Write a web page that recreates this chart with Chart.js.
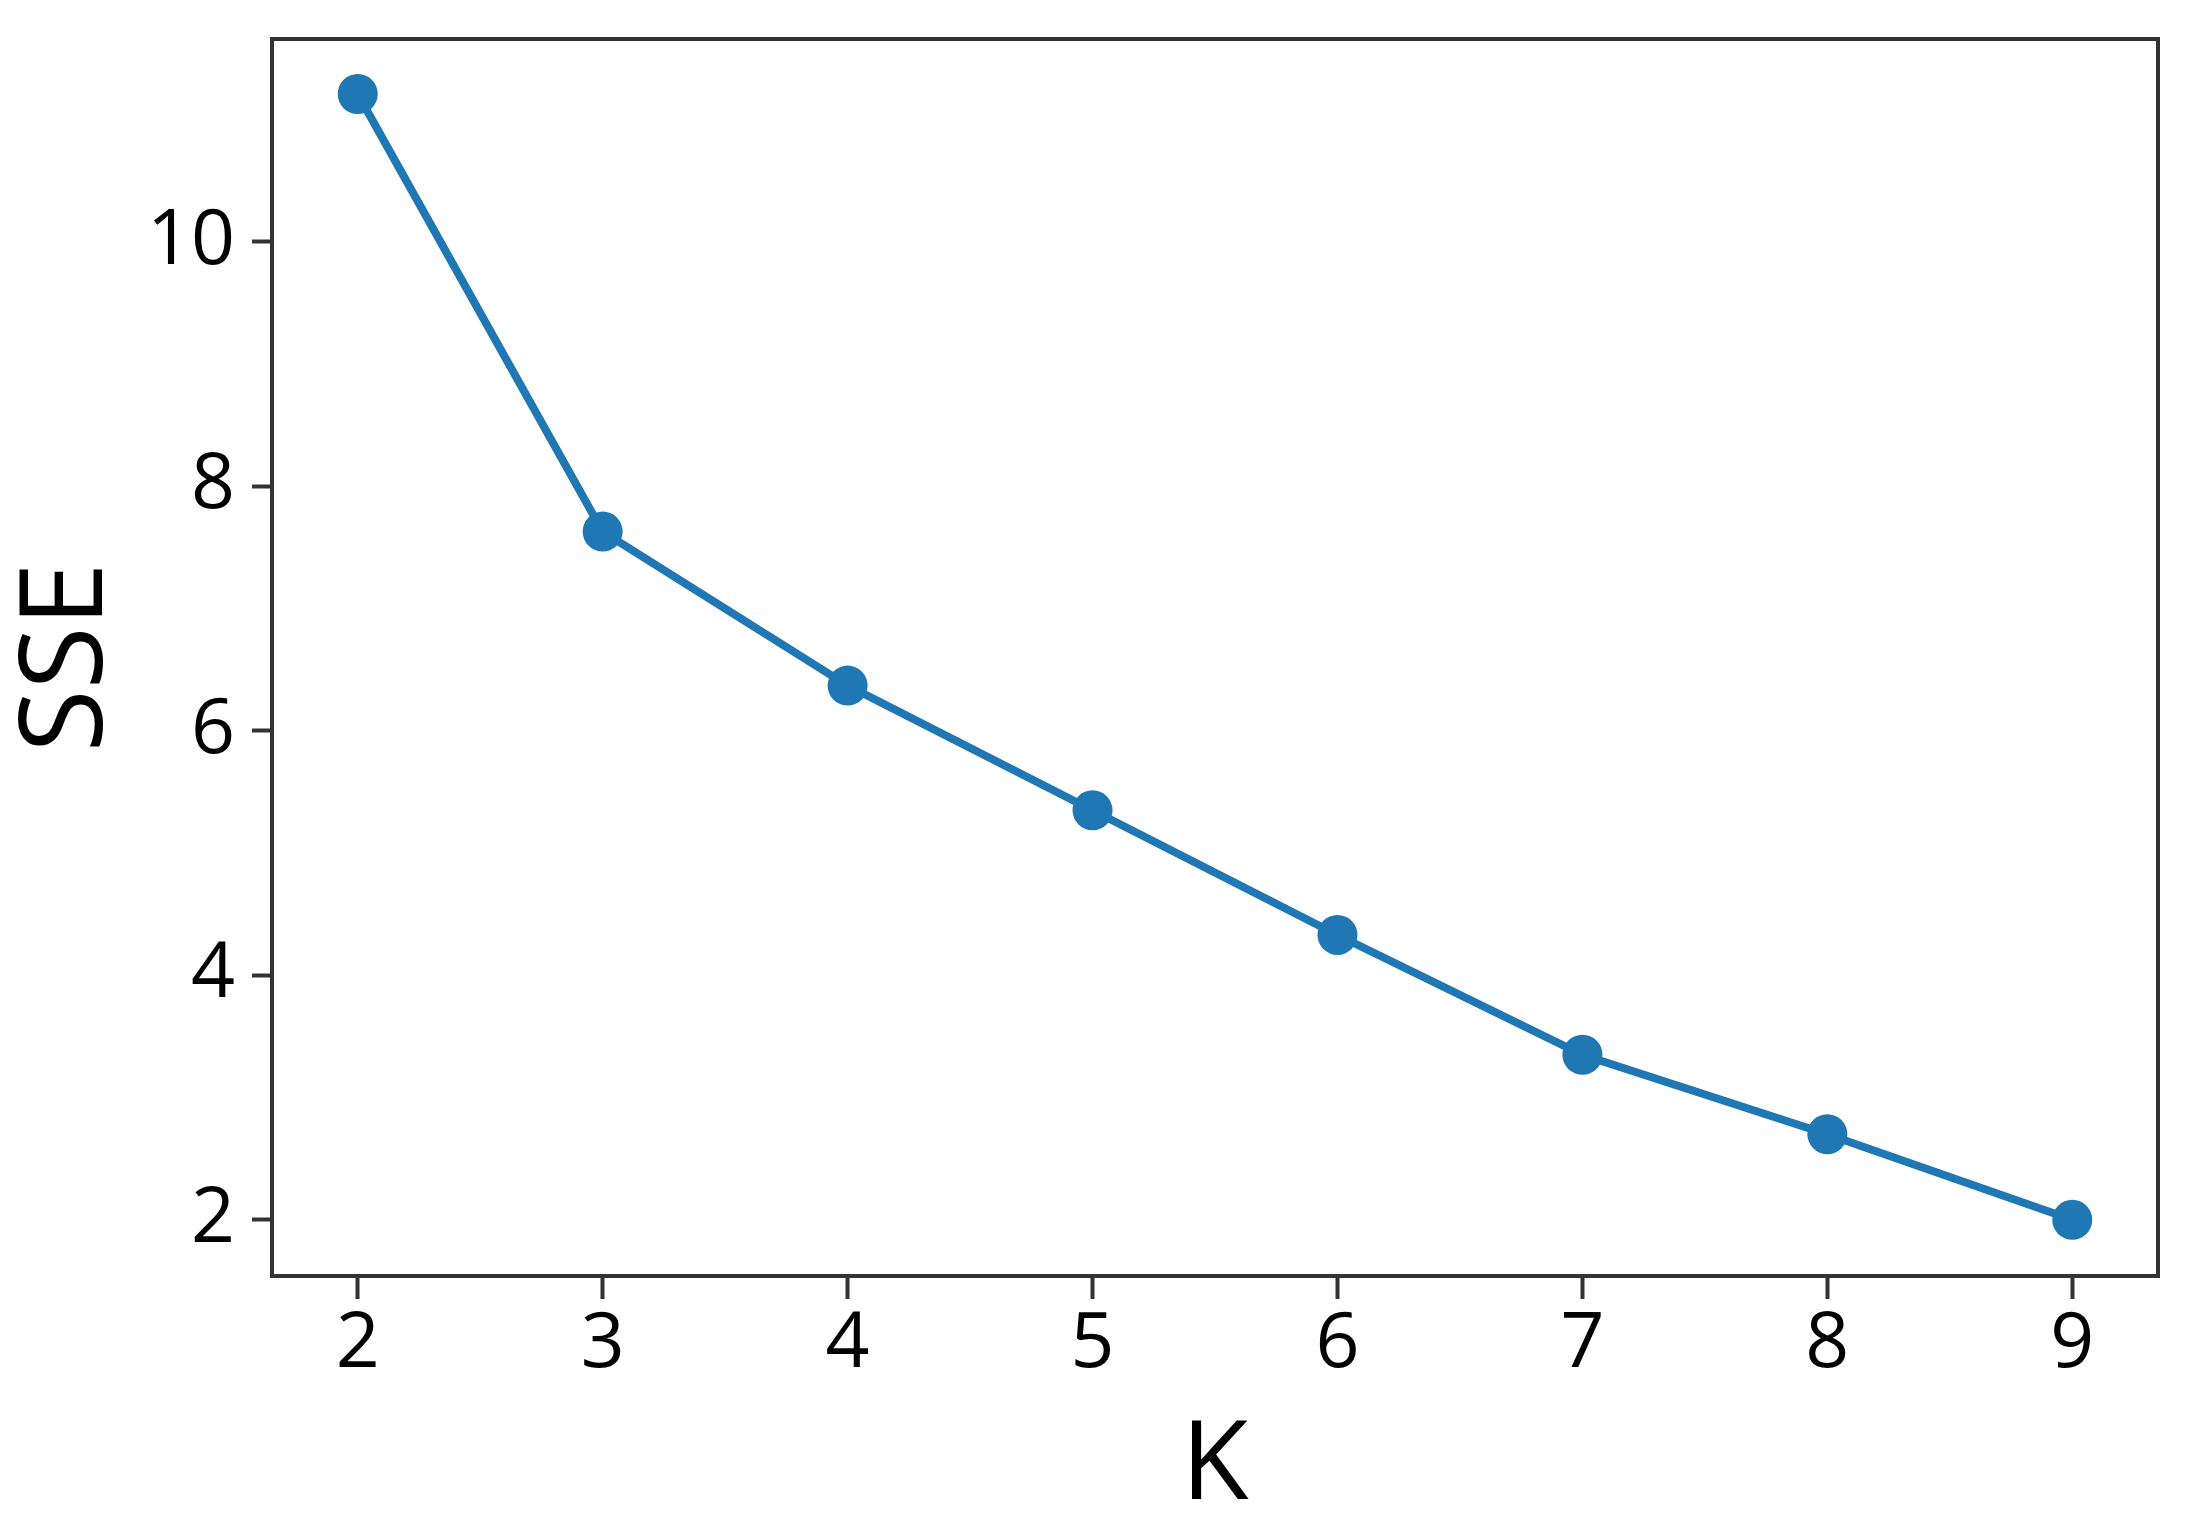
<!DOCTYPE html>
<html>
<head>
<meta charset="utf-8">
<script src="https://cdn.jsdelivr.net/npm/chart.js@4/dist/chart.umd.min.js"></script>
<style>
  html, body { margin: 0; padding: 0; background: #ffffff; }
  #wrap { width: 2200px; height: 1528px; position: relative; }
</style>
</head>
<body>
<div id="wrap"><canvas id="c"></canvas></div>
<script>
const kValues = [2, 3, 4, 5, 6, 7, 8, 9];
const sseValues = [11.21, 7.63, 6.37, 5.35, 4.33, 3.35, 2.70, 2.00];
const xTickValues = [2, 3, 4, 5, 6, 7, 8, 9];
const yTickValues = [2, 4, 6, 8, 10];
const xTitle = 'K';
const yTitle = 'SSE';

const FONT = "'Open Sans', 'Noto Sans', sans-serif";
const lineColor = '#1f77b4';
const axisColor = '#333333';

const framePlugin = {
  id: 'frame',
  afterDraw(chart) {
    const a = chart.chartArea;
    const ctx = chart.ctx;
    ctx.save();
    ctx.strokeStyle = axisColor;
    ctx.lineWidth = 4;
    ctx.strokeRect(a.left, a.top, a.right - a.left, a.bottom - a.top);
    ctx.restore();
  }
};

const pts = kValues.map((k, i) => ({ x: k, y: sseValues[i] }));

new Chart(document.getElementById('c'), {
  type: 'line',
  data: {
    datasets: [{
      data: pts,
      borderColor: lineColor,
      backgroundColor: lineColor,
      borderWidth: 8,
      pointRadius: 20,
      pointBorderWidth: 0,
      pointBackgroundColor: lineColor,
      pointHoverRadius: 20,
      tension: 0,
      fill: false,
      clip: false
    }]
  },
  options: {
    responsive: true,
    maintainAspectRatio: false,
    animation: false,
    devicePixelRatio: 1,
    events: [],
    layout: { padding: { top: 39, right: 42, bottom: 0, left: 0 } },
    plugins: { legend: { display: false }, tooltip: { enabled: false } },
    scales: {
      x: {
        type: 'linear',
        min: 1.65,
        max: 9.35,
        afterBuildTicks: (s) => { s.ticks = xTickValues.map(v => ({ value: v })); },
        afterFit: (s) => { s.height = 252; s.paddingLeft = 0; s.paddingRight = 0; },
        ticks: {
          color: '#000',
          font: { family: FONT, size: 77 },
          padding: 0,
          maxRotation: 0,
          autoSkip: false,
          callback: (v) => String(v)
        },
        grid: {
          drawOnChartArea: false,
          drawTicks: true,
          tickLength: 23,
          tickColor: axisColor,
          tickWidth: 4
        },
        border: { display: true, color: axisColor, width: 4 },
        title: {
          display: true,
          text: xTitle,
          color: '#000',
          font: { family: FONT, size: 110, lineHeight: 1.1 },
          padding: { top: 0, bottom: 0 }
        }
      },
      y: {
        type: 'linear',
        min: 1.54,
        max: 11.66,
        afterBuildTicks: (s) => { s.ticks = yTickValues.map(v => ({ value: v })); },
        afterFit: (s) => { s.width = 272; s.paddingTop = 0; s.paddingBottom = 0; },
        ticks: {
          color: '#000',
          font: { family: FONT, size: 77 },
          padding: 17,
          autoSkip: false,
          callback: (v) => String(v)
        },
        grid: {
          drawOnChartArea: false,
          drawTicks: true,
          tickLength: 20,
          tickColor: axisColor,
          tickWidth: 4
        },
        border: { display: true, color: axisColor, width: 4 },
        title: {
          display: true,
          text: yTitle,
          color: '#000',
          font: { family: FONT, size: 115, lineHeight: 1.2 },
          padding: { top: 0, bottom: 0 }
        }
      }
    }
  },
  plugins: [framePlugin]
});
</script>
</body>
</html>
